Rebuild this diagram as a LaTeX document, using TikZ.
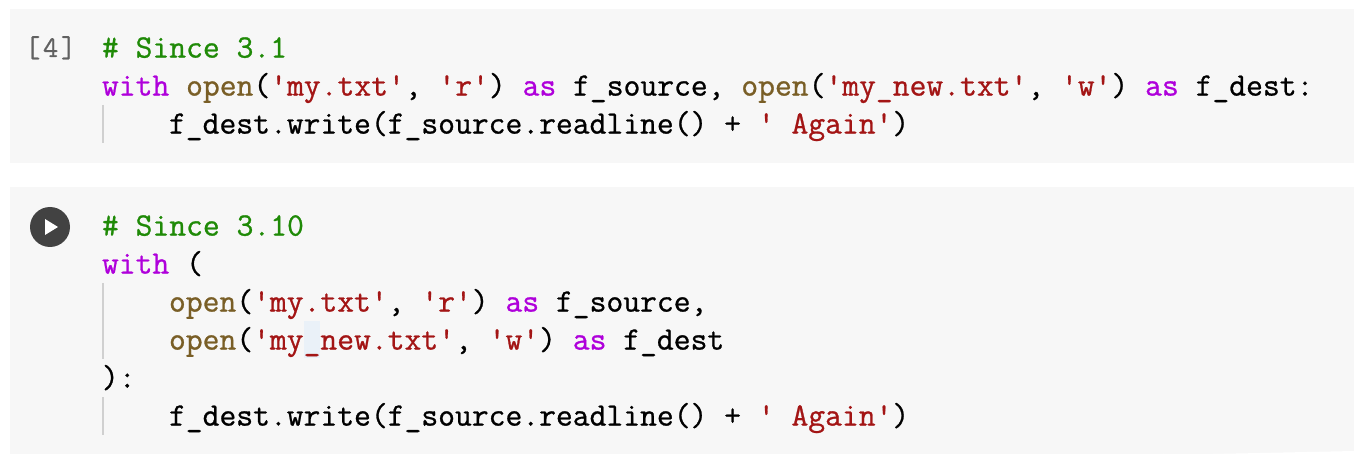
\documentclass[tikz,border=0pt]{standalone}
\usepackage{fontspec}
\setmonofont[FakeBold=0.8,Ligatures=NoCommon]{Latin Modern Mono}
\definecolor{cellbg}{HTML}{F7F7F7}
\definecolor{cmtc}{HTML}{1F8A07}
\definecolor{kwc}{HTML}{AF00DB}
\definecolor{fnc}{HTML}{795E26}
\definecolor{strc}{HTML}{A31515}
\definecolor{guidec}{HTML}{D0D0D0}
\definecolor{runc}{HTML}{424242}
\definecolor{promptc}{HTML}{616161}
\definecolor{hlc}{HTML}{EAF1F8}
\newcommand{\kw}[1]{\textcolor{kwc}{#1}}
\newcommand{\fn}[1]{\textcolor{fnc}{#1}}
\newcommand{\cstr}[1]{\textcolor{strc}{#1}}
\newcommand{\cmt}[1]{\textcolor{cmtc}{#1}}
\newcommand{\qq}{\char39 }
\tikzset{
  codeline/.style={anchor=base west,inner sep=0pt,outer sep=0pt,font=\fontsize{32.67}{38}\selectfont\ttfamily,text=black},
  promptlabel/.style={anchor=base west,inner sep=0pt,outer sep=0pt,font=\fontsize{30}{38}\selectfont\ttfamily,text=promptc},
  cell/.style={fill=cellbg,draw=none},
  guide/.style={draw=guidec,line width=1.5pt}
}
\begin{document}
\begin{tikzpicture}[x=1pt,y=-1pt]
\useasboundingbox (0,0) rectangle (1354,454);
\fill[white] (0,0) rectangle (1354,454);
\fill[cell] (10,9) rectangle (1354,163);
\fill[cell] (10,187) rectangle (1354,454);
\fill[white] (1163,454) -- (1163,453) arc[start angle=180,end angle=90,radius=2] -- (1354,451) -- (1354,454) -- cycle;
\fill[hlc] (304,321) rectangle (320,358);
\draw[guide] (103,105) -- (103,143);
\draw[guide] (103,283) -- (103,359);
\draw[guide] (103,397) -- (103,435);
\node[promptlabel] (prompt) at (25,57) {[\kern2.5pt 4\kern2.5pt ]};
\node[codeline] (a1) at (102,57.6) {\cmt{\#\ Since\ 3.1}};
\node[codeline] (a2) at (102,95.6) {\kw{with}\ \fn{open}(\cstr{\qq my.txt\qq},\ \cstr{\qq r\qq})\ \kw{as}\ f\_source,\ \fn{open}(\cstr{\qq my\_new.txt\qq},\ \cstr{\qq w\qq})\ \kw{as}\ f\_dest:};
\node[codeline] (a3) at (169,133.6) {f\_dest.write(f\_source.readline()\ +\ \cstr{\qq\ Again\qq})};
\fill[runc] (50,227) circle[radius=20];
\fill[white] (45,219) -- (45,235) -- (58,227) -- cycle;
\node[codeline] (b1) at (102,235.6) {\cmt{\#\ Since\ 3.10}};
\node[codeline] (b2) at (102,273.6) {\kw{with}\ (};
\node[codeline] (b3) at (169,311.6) {\fn{open}(\cstr{\qq my.txt\qq},\ \cstr{\qq r\qq})\ \kw{as}\ f\_source,};
\node[codeline] (b4) at (169,349.6) {\fn{open}(\cstr{\qq my\_new.txt\qq},\ \cstr{\qq w\qq})\ \kw{as}\ f\_dest};
\node[codeline] (b5) at (102,387.6) {):};
\node[codeline] (b6) at (169,425.6) {f\_dest.write(f\_source.readline()\ +\ \cstr{\qq\ Again\qq})};
\end{tikzpicture}
\end{document}
